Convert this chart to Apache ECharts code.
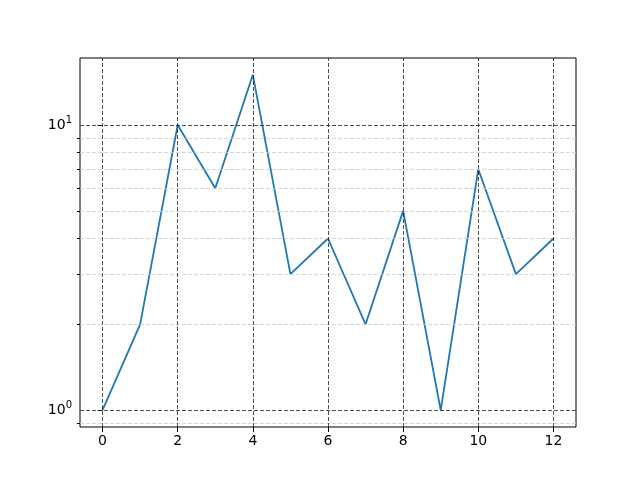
<!DOCTYPE html>
<html>
<head>
<meta charset="utf-8">
<script src="https://cdn.jsdelivr.net/npm/echarts@6/dist/echarts.min.js"></script>
<style>
  html, body { margin: 0; padding: 0; background: #fff; }
  #chart { width: 640px; height: 480px; }
</style>
</head>
<body>
<div id="chart"></div>
<script>
// data
const xValues = [0, 1, 2, 3, 4, 5, 6, 7, 8, 9, 10, 11, 12];
const yValues = [1, 2, 10, 6, 15, 3, 4, 2, 5, 1, 7, 3, 4];
const xTicks = [0, 2, 4, 6, 8, 10, 12];
const yMajor = [1, 10];
const yMinor = [0.9, 2, 3, 4, 5, 6, 7, 8, 9];

const font = 'DejaVu Sans';

let dom = echarts.init(document.getElementById('chart'), null, { renderer: 'canvas' });

// grid lines drawn as mark lines so they sit at exact tick values
const gridLines = [];
yMinor.forEach(v => gridLines.push({ yAxis: v, lineStyle: { color: '#cccccc', type: [4, 2], width: 0.8 } }));
yMajor.forEach(v => gridLines.push({ yAxis: v, lineStyle: { color: '#222', type: [4, 2], width: 0.8 } }));
xTicks.forEach(v => gridLines.push({ xAxis: v, lineStyle: { color: '#222', type: [4, 2], width: 0.8 } }));

const option = {
    animation: false,
    grid: {
        left: 80, right: 64, top: 58, bottom: 53,
        show: true, borderColor: '#000', borderWidth: 1, backgroundColor: 'transparent'
    },
    xAxis: {
        type: 'value',
        min: -0.6, max: 12.6,
        axisLine: { show: false },
        splitLine: { show: false },
        axisTick: { show: true, customValues: xTicks, length: 5, lineStyle: { color: '#000' } },
        axisLabel: { customValues: xTicks, color: '#000', fontFamily: font, fontSize: 14, margin: 7 }
    },
    yAxis: [{
        type: 'log',
        position: 'left',
        min: 0.873, max: 17.18,
        axisLine: { show: false },
        splitLine: { show: false },
        axisTick: { show: true, customValues: yMajor, length: 5, lineStyle: { color: '#000' } },
        axisLabel: {
            customValues: yMajor, color: '#000', fontFamily: font, fontSize: 14, margin: 8,
            formatter: v => '10{sup|' + Math.round(Math.log10(v)) + '}',
            rich: { sup: { fontSize: 10, fontFamily: font, color: '#000', padding: [0, 0, 10, 0] } }
        }
    }, {
        type: 'log',
        position: 'left',
        min: 0.873, max: 17.18,
        axisLine: { show: false },
        splitLine: { show: false },
        axisTick: { show: true, customValues: yMinor, length: 3, lineStyle: { color: '#000' } },
        axisLabel: { show: false }
    }],
    series: [{
        name: 'grid',
        type: 'line',
        z: 1,
        data: [],
        markLine: { silent: true, symbol: 'none', label: { show: false }, animation: false, data: gridLines }
    }, {
        type: 'line',
        z: 3,
        data: xValues.map((x, i) => [x, yValues[i]]),
        showSymbol: false,
        lineStyle: { color: '#1f77b4', width: 1.8 },
        itemStyle: { color: '#1f77b4' }
    }]
};

dom.setOption(option);
</script>
</body>
</html>
